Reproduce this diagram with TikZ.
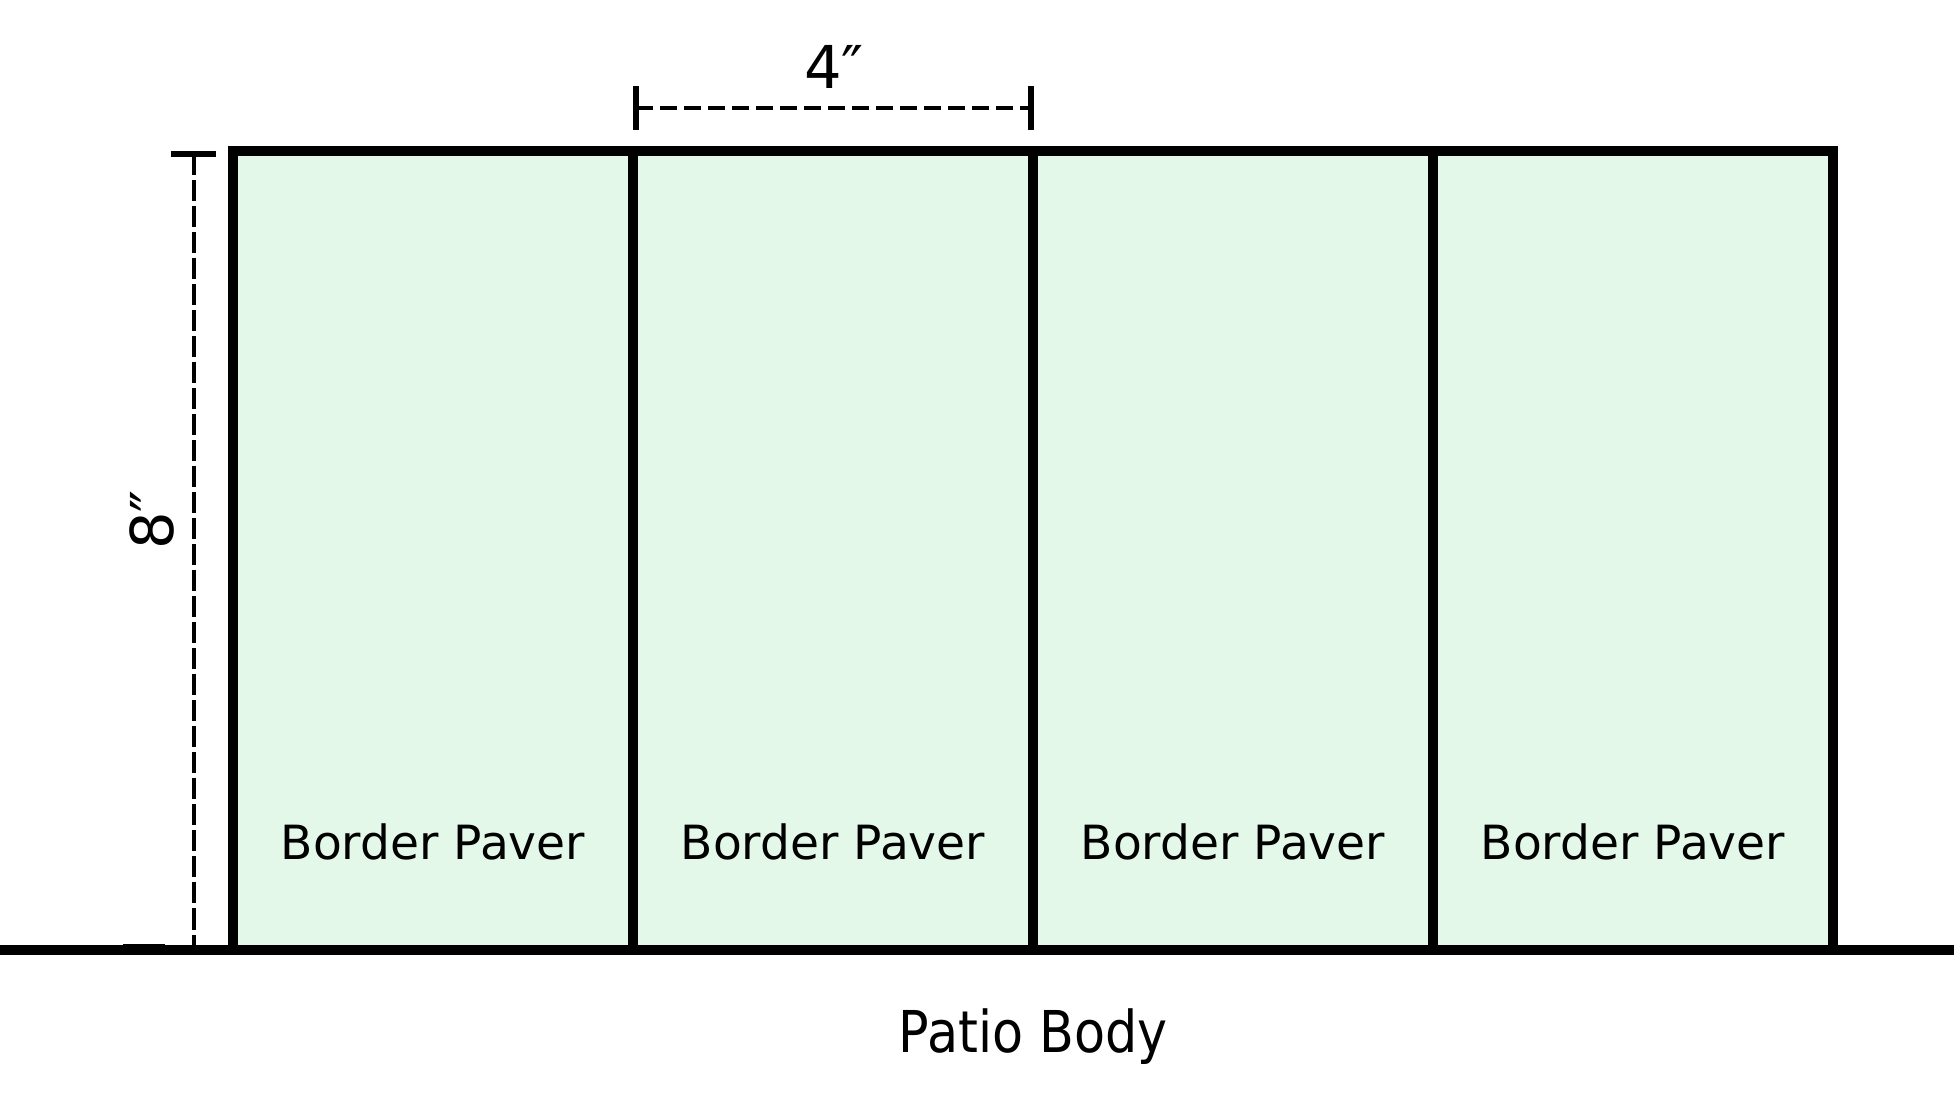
\documentclass[tikz,border=0pt]{standalone}
\usepackage{fontspec}
\setmainfont{DejaVu Sans}
\newfontfamily\narrowsans[FakeStretch=0.88]{DejaVu Sans}
\usetikzlibrary{positioning}

\definecolor{paverfill}{RGB}{228,248,233}

\tikzset{
	paver/.style={draw=black, fill=paverfill, line width=2.85pt, minimum width=4cm, minimum height=7.99cm, inner sep=0pt, outer sep=0pt},
	pavertext/.style={font=\fontsize{13.4}{16}\selectfont, inner sep=0pt},
	dimline/.style={line width=1.15pt, dash pattern=on 0.17cm off 0.07cm},
	dimvline/.style={line width=1.1pt, dash pattern=on 0.21cm off 0.05cm},
	dimtick/.style={line width=1.5pt},
	dimtext/.style={font=\fontsize{16.8}{20}\selectfont, inner sep=0pt}
}

\begin{document}
\begin{tikzpicture}[x=0.01cm, y=-0.01cm]
	\useasboundingbox (0,0) rectangle (1958,1102);
	% the four pavers
	\foreach \i in {1,...,4} {
		\node[paver] (p\i) at ({33+400*\i},550.5) {};
		\node[pavertext, above=0.89cm of p\i.south] (t\i) {Border Paver};
	}
	% patio edge
	\coordinate (gw) at (0,950);
	\coordinate (ge) at (1954,950);
	\draw[line width=2.85pt] (gw) -- (ge);
	\node[font=\narrowsans\fontsize{16.4}{20}\selectfont, inner sep=0pt, anchor=base] (patio) at ([yshift=-1.02cm]p2.south east) {Patio Body};

	% width of one paver
	\coordinate (wl) at (636,108);
	\coordinate (wr) at (1031,108);
	\draw[dimline] (wl) -- (wr);
	\draw[dimtick] ([yshift=0.22cm]wl) -- ([yshift=-0.22cm]wl);
	\draw[dimtick] ([yshift=0.22cm]wr) -- ([yshift=-0.22cm]wr);
	\node[dimtext] (wtext) at (834,66.5) {4″};

	% height of one paver
	\coordinate (ht) at (194,154);
	\coordinate (hb) at (194,947);
	\draw[dimvline] (ht) -- (hb);
	\draw[dimtick, line width=1.7pt] ([xshift=-0.23cm]ht) -- ([xshift=0.22cm]ht);
	\coordinate (hbt) at (123,947);
	\draw[dimtick] (hbt) -- ++(42,0);
	\node[dimtext, rotate=90] (htext) at (152,520) {8″};
\end{tikzpicture}
\end{document}
